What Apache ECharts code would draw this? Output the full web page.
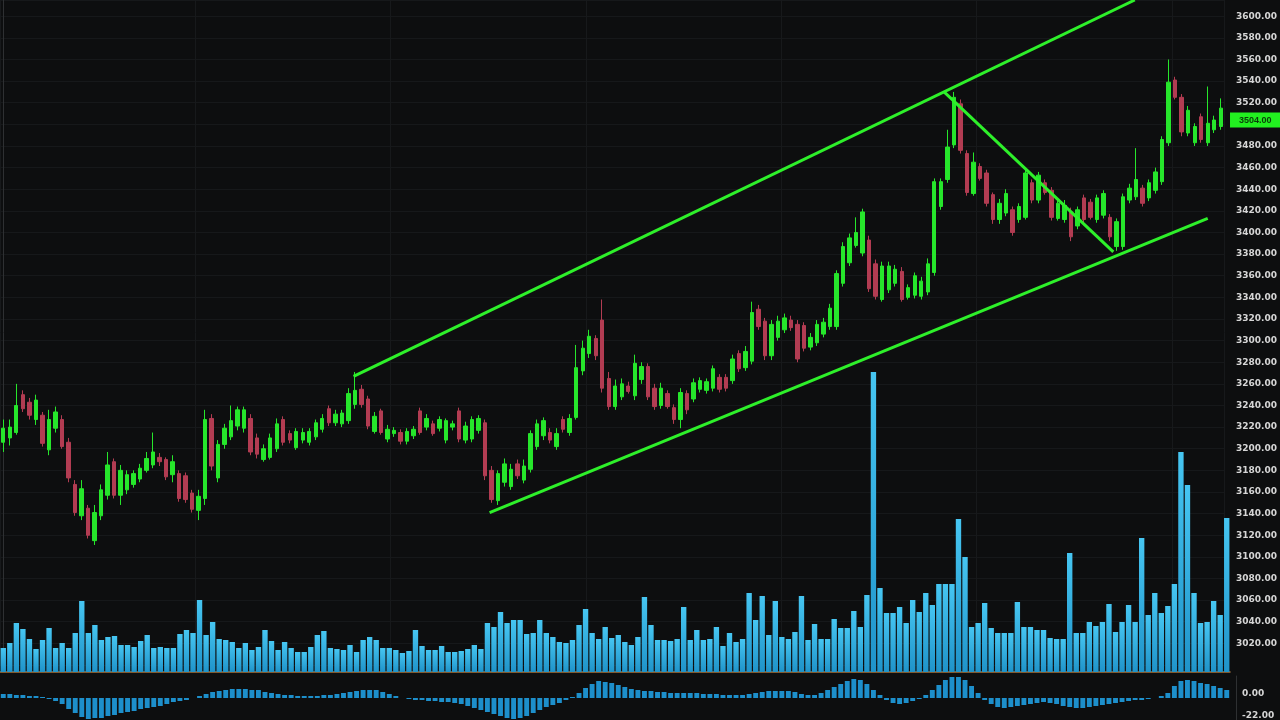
<!DOCTYPE html>
<html>
<head>
<meta charset="utf-8">
<style>
  html, body { margin: 0; padding: 0; background: #0d0e0f; }
  #chart { width: 1280px; height: 720px; }
</style>
<script src="https://cdn.jsdelivr.net/npm/echarts@6/dist/echarts.min.js"></script>
</head>
<body>
<div id="chart"></div>
<script>
// [open, close, low, high]
const candles = [
  [3206,3219,3197,3227],[3210,3220,3203,3227],[3215,3240,3213,3260],[3250,3237,3234,3254],[3243,3231,3227,3247],
  [3227,3245,3222,3250],[3231,3205,3202,3234],[3199,3227,3194,3236],[3219,3234,3215,3239],[3227,3202,3200,3231],
  [3206,3173,3169,3210],[3167,3141,3138,3171],[3138,3163,3134,3171],[3145,3120,3117,3148],[3115,3141,3111,3148],
  [3138,3162,3134,3167],[3157,3185,3153,3197],[3188,3157,3154,3191],[3157,3180,3148,3185],[3162,3176,3158,3180],
  [3167,3177,3164,3180],[3172,3182,3169,3186],[3180,3191,3178,3197],[3185,3197,3182,3215],[3192,3188,3184,3196],
  [3190,3174,3171,3192],[3176,3188,3169,3194],[3177,3154,3151,3180],[3175,3153,3150,3178],[3159,3144,3141,3162],
  [3143,3156,3134,3162],[3154,3227,3148,3236],[3228,3184,3180,3232],[3173,3204,3169,3208],[3204,3219,3200,3223],
  [3211,3226,3208,3240],[3221,3236,3217,3239],[3219,3236,3215,3239],[3228,3197,3194,3232],[3210,3195,3191,3214],
  [3190,3200,3188,3204],[3192,3210,3190,3214],[3200,3223,3197,3228],[3227,3206,3203,3230],[3214,3208,3205,3217],
  [3201,3216,3199,3219],[3208,3215,3205,3219],[3206,3216,3203,3219],[3211,3224,3208,3227],[3218,3228,3215,3232],
  [3237,3224,3221,3240],[3224,3232,3221,3236],[3223,3233,3220,3236],[3226,3251,3223,3256],[3241,3254,3237,3271],
  [3255,3241,3238,3259],[3246,3221,3218,3249],[3216,3230,3214,3234],[3235,3215,3213,3237],[3209,3218,3206,3222],
  [3214,3217,3211,3220],[3215,3207,3204,3218],[3207,3216,3204,3219],[3212,3218,3209,3221],[3235,3215,3213,3238],
  [3220,3228,3217,3232],[3223,3214,3212,3226],[3219,3227,3216,3230],[3208,3226,3205,3228],[3220,3223,3217,3226],
  [3235,3209,3206,3238],[3208,3221,3205,3225],[3209,3227,3206,3230],[3217,3228,3214,3231],[3224,3175,3171,3227],
  [3180,3153,3150,3184],[3152,3177,3148,3180],[3169,3186,3165,3191],[3165,3181,3162,3186],[3186,3175,3172,3190],
  [3171,3184,3168,3190],[3181,3214,3178,3217],[3202,3223,3199,3227],[3212,3226,3208,3229],[3215,3208,3205,3219],
  [3202,3214,3199,3219],[3227,3218,3215,3230],[3215,3228,3212,3232],[3229,3275,3227,3296],[3272,3293,3268,3300],
  [3288,3304,3284,3310],[3302,3286,3282,3305],[3319,3256,3252,3338],[3265,3239,3236,3271],[3239,3258,3236,3264],
  [3248,3260,3245,3265],[3258,3253,3251,3262],[3249,3279,3245,3287],[3264,3276,3260,3280],[3276,3248,3245,3279],
  [3256,3239,3236,3260],[3240,3256,3237,3261],[3251,3239,3237,3254],[3238,3227,3223,3241],[3227,3252,3219,3256],
  [3251,3236,3232,3254],[3246,3261,3243,3265],[3255,3263,3252,3266],[3254,3262,3251,3265],[3256,3274,3253,3277],
  [3266,3255,3252,3269],[3266,3256,3253,3269],[3263,3283,3260,3287],[3288,3274,3271,3291],[3275,3290,3272,3295],
  [3281,3326,3278,3336],[3329,3313,3310,3333],[3318,3286,3282,3321],[3286,3315,3282,3319],[3303,3318,3300,3323],
  [3310,3321,3307,3325],[3319,3312,3309,3323],[3315,3283,3280,3319],[3314,3293,3290,3317],[3294,3303,3291,3307],
  [3298,3315,3295,3319],[3306,3317,3303,3321],[3313,3330,3310,3334],[3313,3362,3310,3365],[3353,3387,3350,3391],
  [3372,3395,3369,3399],[3388,3400,3386,3414],[3381,3419,3378,3422],[3393,3348,3345,3397],[3371,3341,3338,3375],
  [3338,3369,3336,3373],[3347,3369,3344,3373],[3353,3366,3350,3370],[3364,3338,3336,3368],[3340,3349,3338,3352],
  [3342,3360,3339,3363],[3341,3355,3338,3359],[3345,3371,3342,3376],[3363,3447,3360,3450],[3424,3447,3421,3450],
  [3449,3479,3446,3495],[3481,3525,3478,3530],[3519,3476,3473,3523],[3473,3437,3434,3476],[3436,3465,3434,3474],
  [3461,3450,3448,3464],[3455,3427,3424,3458],[3435,3412,3408,3437],[3412,3427,3408,3431],[3418,3436,3415,3440],
  [3421,3400,3397,3424],[3412,3424,3409,3427],[3414,3455,3412,3458],[3446,3430,3427,3449],[3430,3453,3427,3456],
  [3446,3437,3435,3449],[3439,3414,3411,3442],[3413,3427,3411,3430],[3412,3425,3409,3430],[3419,3396,3392,3423],
  [3406,3421,3403,3424],[3432,3412,3408,3435],[3428,3414,3412,3431],[3412,3432,3409,3435],[3416,3436,3413,3439],
  [3414,3396,3392,3417],[3387,3410,3383,3413],[3387,3433,3384,3436],[3430,3441,3427,3445],[3433,3449,3430,3478],
  [3441,3427,3424,3444],[3432,3446,3429,3449],[3439,3456,3436,3460],[3447,3486,3444,3489],[3483,3539,3480,3560],
  [3541,3525,3523,3544],[3525,3493,3489,3528],[3492,3513,3489,3517],[3483,3498,3480,3501],[3507,3486,3483,3510],
  [3483,3501,3480,3535],[3495,3504,3492,3508],[3498,3515,3495,3524]
];

const volumes = [
  240,290,490,430,330,230,320,440,240,290,240,390,710,390,470,320,350,360,270,270,
  250,310,370,240,250,240,240,380,420,390,720,370,500,330,320,300,240,290,220,250,
  420,310,220,300,240,200,200,250,370,410,240,230,220,270,200,320,350,320,240,240,
  220,190,210,420,260,220,220,260,200,200,210,230,270,230,490,450,600,490,520,520,
  380,390,520,390,350,300,290,320,470,630,390,330,450,340,370,300,270,350,750,470,
  320,320,310,330,650,320,420,320,330,450,260,390,300,330,790,520,760,370,710,350,
  330,400,760,320,480,330,330,530,440,440,610,450,770,3000,840,590,590,650,490,720,
  600,790,670,880,880,880,1530,1150,450,490,690,440,390,390,390,700,450,450,420,420,
  340,330,330,1190,390,390,500,460,500,680,400,500,670,500,1340,570,790,590,660,880,
  2200,1870,790,490,500,710,570,1540
];

const oscillator = [
  4,4,3,3,2,2,1,-1,-3,-6,-11,-15,-19,-21,-20,-20,-18,-17,-15,-14,
  -13,-11,-10,-9,-8,-6,-4,-3,-2,0,2,4,6,7,8,9,9,9,8,8,
  6,5,4,3,3,2,2,2,2,3,3,4,5,6,7,8,8,8,6,4,
  2,0,-1,-2,-2,-3,-3,-4,-4,-5,-6,-8,-10,-12,-14,-16,-18,-20,-21,-20,
  -18,-15,-12,-9,-7,-5,-2,1,5,10,14,17,16,15,13,11,9,8,7,7,
  6,6,5,5,5,5,5,4,4,4,3,3,3,3,4,5,6,7,7,7,
  7,6,4,3,3,5,8,11,14,17,19,18,14,8,3,-2,-5,-6,-5,-3,
  -1,3,8,13,18,21,21,18,12,5,-2,-6,-9,-10,-9,-8,-7,-6,-5,-4,
  -5,-6,-8,-9,-10,-10,-9,-8,-7,-6,-5,-4,-3,-2,-2,-1,0,2,5,12,
  17,18,17,15,14,12,10,8
];

// trend lines: [[candle position, price], [candle position, price]]
const channelTop = [[53.8, 3267], [173.8, 3615]];
const channelBottom = [[74.7, 3141], [185.0, 3413]];
const pullbackLine = [[144.5, 3530], [170.5, 3382]];

const lastPrice = 3504;

const days = candles.map((_, i) => 'D' + (i + 1));

const chart = echarts.init(document.getElementById('chart'));

const trendStyle = { color: '#2ef02a', width: 3 };

const option = {
  animation: false,
  backgroundColor: '#0d0e0f',
  grid: [
    { left: 0, width: 1230, top: 0, height: 665 },
    { left: 0, width: 1230, top: 360, height: 312 },
    { left: 0, width: 1230, top: 676, height: 44 }
  ],
  xAxis: [
    {
      type: 'category', gridIndex: 0, data: days, boundaryGap: true,
      axisLine: { show: false }, axisTick: { show: false }, axisLabel: { show: false },
      splitLine: { show: true, interval: 29, lineStyle: { color: '#17191b' } }
    },
    {
      type: 'category', gridIndex: 1, data: days, boundaryGap: true,
      axisLine: { show: true, lineStyle: { color: '#a8743c', width: 1.5 } },
      axisTick: { show: false }, axisLabel: { show: false }
    },
    {
      type: 'category', gridIndex: 2, data: days, boundaryGap: true,
      axisLine: { show: false }, axisTick: { show: false }, axisLabel: { show: false }
    },
    {
      type: 'value', gridIndex: 0, min: -0.5, max: candles.length - 0.5, show: false
    }
  ],
  yAxis: [
    {
      type: 'value', gridIndex: 0, position: 'right', offset: 6,
      min: 3000, max: 3615, interval: 20,
      axisLine: { show: true, lineStyle: { color: '#2e3032' } },
      axisTick: { show: false },
      axisLabel: {
        color: '#d6d6d6', fontSize: 9, fontWeight: 'bold', fontFamily: 'DejaVu Sans',
        margin: 6, showMinLabel: false, showMaxLabel: false,
        formatter: v => v.toFixed(2)
      },
      splitLine: { show: true, lineStyle: { color: '#16181a' } }
    },
    {
      type: 'value', gridIndex: 1, min: 0, max: 3120, show: false
    },
    {
      type: 'value', gridIndex: 2, position: 'right', offset: 6,
      min: -22, max: 22, interval: 22,
      axisLine: { show: true, lineStyle: { color: '#2e3032' } },
      axisTick: { show: false },
      axisLabel: {
        color: '#d6d6d6', fontSize: 9, fontWeight: 'bold', fontFamily: 'DejaVu Sans',
        margin: 6, showMaxLabel: false, verticalAlign: 'bottom',
        formatter: v => v.toFixed(2)
      },
      splitLine: { show: false }
    }
  ],
  series: [
    {
      name: 'Volume', type: 'bar', xAxisIndex: 1, yAxisIndex: 1,
      data: volumes, barCategoryGap: '18%',
      itemStyle: {
        color: new echarts.graphic.LinearGradient(0, 0, 0, 1, [
          { offset: 0, color: '#46c6f2' },
          { offset: 1, color: '#1f93c9' }
        ])
      }
    },
    {
      name: 'Price', type: 'candlestick', xAxisIndex: 0, yAxisIndex: 0,
      data: candles, barWidth: '60%', clip: false,
      itemStyle: {
        color: '#26e62b', color0: '#b23c52',
        borderColor: '#26e62b', borderColor0: '#b23c52', borderWidth: 1
      },
      markLine: {
        symbol: 'none', silent: true,
        lineStyle: { color: 'rgba(0,0,0,0)', width: 0 },
        label: {
          show: true, position: 'end', distance: 6,
          backgroundColor: '#22f020', color: '#0a3d0a',
          fontSize: 9, fontWeight: 'bold', padding: [3, 9],
          formatter: p => p.value.toFixed(2)
        },
        data: [{ yAxis: lastPrice }]
      }
    },
    {
      name: 'Oscillator', type: 'bar', xAxisIndex: 2, yAxisIndex: 2,
      data: oscillator, barCategoryGap: '25%',
      itemStyle: { color: '#1d8fcb' }
    },
    {
      name: 'Channel top', type: 'line', xAxisIndex: 3, yAxisIndex: 0,
      data: channelTop, symbol: 'none', lineStyle: trendStyle
    },
    {
      name: 'Channel bottom', type: 'line', xAxisIndex: 3, yAxisIndex: 0,
      data: channelBottom, symbol: 'none', lineStyle: trendStyle
    },
    {
      name: 'Pullback', type: 'line', xAxisIndex: 3, yAxisIndex: 0,
      data: pullbackLine, symbol: 'none', lineStyle: trendStyle
    }
  ]
};

chart.setOption(option);
window.addEventListener('resize', () => chart.resize());
</script>
</body>
</html>
